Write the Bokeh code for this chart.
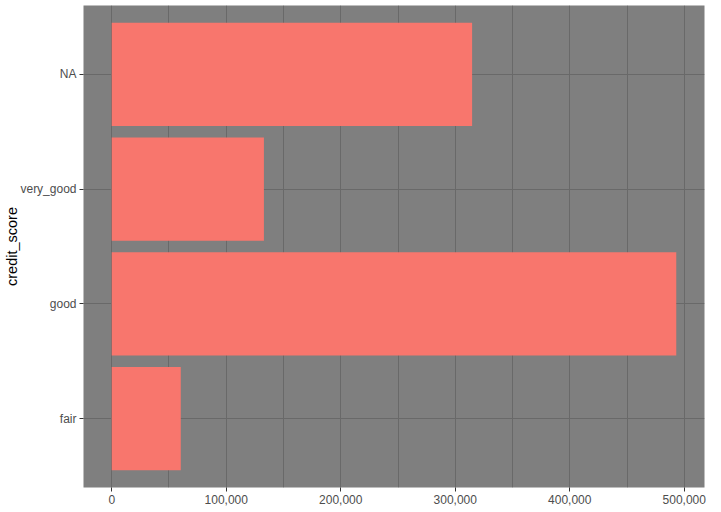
from bokeh.plotting import figure
from bokeh.models import Range1d, FixedTicker, NumeralTickFormatter, ColumnDataSource
from bokeh.embed import file_html
from bokeh.resources import INLINE

categories = ["fair", "good", "very_good", "NA"]
counts = [60300, 493000, 132900, 314700]
x_ticks = [0, 100000, 200000, 300000, 400000, 500000]
x_minor = [50000, 150000, 250000, 350000, 450000]

pos = list(range(1, len(categories) + 1))
vmax = max(counts)
src = ColumnDataSource(dict(y=pos, right=counts, cat=categories))

p = figure(width=713, height=512, output_backend="svg", toolbar_location=None,
           x_range=Range1d(-0.05 * vmax, 1.05 * vmax),
           y_range=Range1d(0.4, len(categories) + 0.6),
           min_border_left=83, min_border_right=9, min_border_top=5, min_border_bottom=25)
p.outline_line_color = None
p.background_fill_color = "#7F7F7F"
p.border_fill_color = "white"

p.hbar(y="y", right="right", left=0, height=0.9, source=src,
       fill_color="#F8766D", line_color=None)

p.xaxis.ticker = FixedTicker(ticks=x_ticks, minor_ticks=x_minor)
p.xaxis.formatter = NumeralTickFormatter(format="0,0")
p.yaxis.ticker = FixedTicker(ticks=pos)
p.yaxis.major_label_overrides = {i: c for i, c in zip(pos, categories)}

p.xgrid.grid_line_color = "#696969"
p.xgrid.minor_grid_line_color = "#696969"
p.ygrid.grid_line_color = "#696969"

for ax in (p.xaxis[0], p.yaxis[0]):
    ax.axis_line_color = None
    ax.major_tick_line_color = "#333333"
    ax.major_tick_in = 0
    ax.major_tick_out = 4
    ax.minor_tick_line_color = None
    ax.major_label_text_font = "Liberation Sans"
    ax.major_label_text_font_size = "12px"
    ax.major_label_text_color = "#4D4D4D"
    ax.major_label_standoff = 3

p.yaxis.axis_label = "credit_score"
p.yaxis.axis_label_text_font = "Liberation Sans"
p.yaxis.axis_label_text_font_size = "14.5px"
p.yaxis.axis_label_text_font_style = "normal"
p.yaxis.axis_label_text_color = "black"
p.yaxis.axis_label_standoff = -3

open("out.html", "w").write(file_html(p, INLINE))
